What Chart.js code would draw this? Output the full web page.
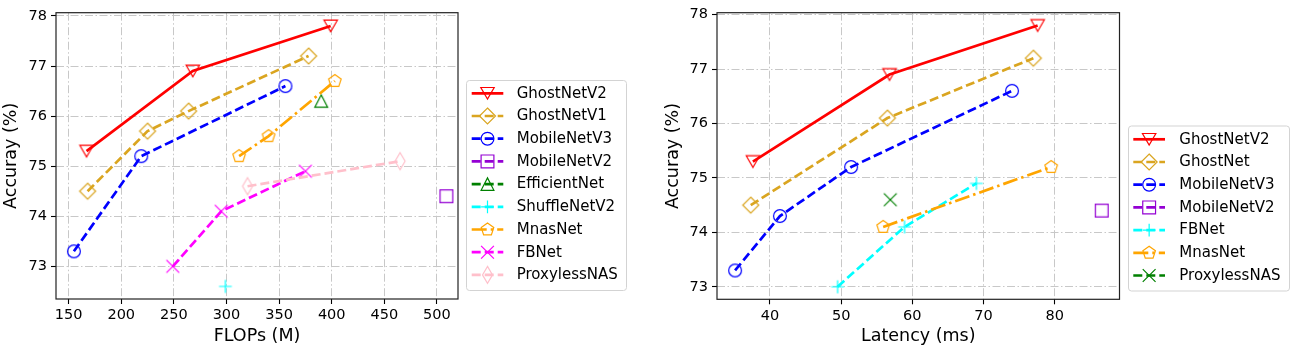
<!DOCTYPE html>
<html><head><meta charset="utf-8">
<script src="https://cdn.jsdelivr.net/npm/chart.js@4/dist/chart.umd.min.js"></script>
<style>
html,body{margin:0;padding:0;background:#fff;}
#wrap{position:relative;width:1292px;height:356px;overflow:hidden;}
canvas{position:absolute;top:0;}
#c1{left:0;} #c2{left:640px;}
</style></head><body>
<div id="wrap"><canvas id="c1" width="640" height="356"></canvas><canvas id="c2" width="652" height="356"></canvas></div>
<script>
// ---------- Left chart: accuracy vs FLOPs ----------
const flopsTicks = [150, 200, 250, 300, 350, 400, 450, 500];
const accTicks = [73, 74, 75, 76, 77, 78];
const ghostV2Flops = [167, 268, 399];
const ghostV2AccF = [75.3, 76.9, 77.8];
const ghostV1Flops = [168, 225, 264, 378];
const ghostV1AccF = [74.5, 75.7, 76.1, 77.2];
const mbv3Flops = [155, 219, 356];
const mbv3AccF = [73.3, 75.2, 76.6];
const mbv2Flops = [509];
const mbv2AccF = [74.4];
const effFlops = [390];
const effAccF = [76.3];
const shuffleFlops = [299];
const shuffleAccF = [72.6];
const mnasFlops = [312, 340, 403];
const mnasAccF = [75.2, 75.6, 76.7];
const fbFlops = [249, 295, 375];
const fbAccF = [73.0, 74.1, 74.9];
const proxFlops = [320, 465];
const proxAccF = [74.6, 75.1];

// ---------- Right chart: accuracy vs latency ----------
const latTicks = [40, 50, 60, 70, 80];
const ghostV2Lat = [37.6, 56.8, 77.6];
const ghostV2AccL = [75.3, 76.9, 77.8];
const ghostLat = [37.3, 56.5, 77.0];
const ghostAccL = [74.5, 76.1, 77.2];
const mbv3Lat = [35.1, 41.4, 51.4, 74.0];
const mbv3AccL = [73.3, 74.3, 75.2, 76.6];
const mbv2Lat = [86.6];
const mbv2AccL = [74.4];
const fbLat = [49.5, 58.9, 69.0];
const fbAccL = [73.0, 74.1, 74.9];
const mnasLat = [55.9, 79.5];
const mnasAccL = [74.1, 75.2];
const proxLat = [56.9];
const proxAccL = [74.6];

// ---------- styles ----------
const DASH = [9, 4];
const DASHDOT = [15, 4, 2.5, 4];
const FONT = "'DejaVu Sans', sans-serif";
Chart.defaults.font.family = FONT;
Chart.defaults.color = '#000';

function drawMarker(ctx, shape, x, y, color) {
  const s = 12.8, h = s / 2;
  ctx.save();
  ctx.strokeStyle = color;
  ctx.lineWidth = 1.2;
  ctx.setLineDash([]);
  ctx.lineJoin = 'miter';
  ctx.beginPath();
  switch (shape) {
    case 'v': ctx.moveTo(x - 6.7, y - 5.8); ctx.lineTo(x + 6.7, y - 5.8); ctx.lineTo(x, y + 5.8); ctx.closePath(); break;
    case '^': ctx.moveTo(x - 6.4, y + 6.2); ctx.lineTo(x + 6.4, y + 6.2); ctx.lineTo(x, y - 6.2); ctx.closePath(); break;
    case 'D': { const d = 8; ctx.moveTo(x, y - d); ctx.lineTo(x + d, y); ctx.lineTo(x, y + d); ctx.lineTo(x - d, y); ctx.closePath(); break; }
    case 'd': { const dy = 8.5, dx = 5; ctx.moveTo(x, y - dy); ctx.lineTo(x + dx, y); ctx.lineTo(x, y + dy); ctx.lineTo(x - dx, y); ctx.closePath(); break; }
    case 'o': ctx.arc(x, y, h, 0, Math.PI * 2); break;
    case 's': ctx.rect(x - h, y - h, s, s); break;
    case '+': ctx.moveTo(x - h, y); ctx.lineTo(x + h, y); ctx.moveTo(x, y - h); ctx.lineTo(x, y + h); break;
    case 'x': ctx.moveTo(x - h, y - h); ctx.lineTo(x + h, y + h); ctx.moveTo(x - h, y + h); ctx.lineTo(x + h, y - h); break;
    case 'p': { const r = 6.6; for (let k = 0; k < 5; k++) { const a = -Math.PI / 2 + k * 2 * Math.PI / 5; const px = x + r * Math.cos(a), py = y + r * Math.sin(a); k ? ctx.lineTo(px, py) : ctx.moveTo(px, py); } ctx.closePath(); break; }
  }
  ctx.stroke();
  ctx.restore();
}

function markerCanvas(shape, color) {
  const c = document.createElement('canvas');
  c.width = 24; c.height = 24;
  drawMarker(c.getContext('2d'), shape, 12, 12, color);
  return c;
}

const framePlugin = {
  id: 'frame',
  afterDatasetsDraw(chart) {
    const a = chart.chartArea, ctx = chart.ctx;
    ctx.save();
    ctx.strokeStyle = '#222';
    ctx.lineWidth = 1.2;
    ctx.strokeRect(a.left, a.top, a.right - a.left, a.bottom - a.top);
    ctx.restore();
  }
};

const legendPlugin = {
  id: 'mplLegend',
  afterDraw(chart) {
    const L = chart.options.plugins.mplLegend;
    if (!L) return;
    const ctx = chart.ctx;
    ctx.save();
    ctx.beginPath();
    ctx.roundRect(L.x, L.y, L.w, L.h, 3);
    ctx.fillStyle = 'rgba(255,255,255,0.85)';
    ctx.fill();
    ctx.strokeStyle = '#d3d3d3';
    ctx.lineWidth = 1;
    ctx.stroke();
    chart.data.datasets.forEach((ds, i) => {
      const cy = L.row0 + i * L.rowH;
      ctx.save();
      ctx.strokeStyle = ds.borderColor;
      ctx.lineWidth = ds.borderWidth;
      ctx.setLineDash(ds.borderDash || []);
      ctx.beginPath();
      ctx.moveTo(L.hx0, cy); ctx.lineTo(L.hx1, cy);
      ctx.stroke();
      ctx.restore();
      drawMarker(ctx, ds.mplMarker, (L.hx0 + L.hx1) / 2, cy, ds.borderColor);
      ctx.fillStyle = '#000';
      ctx.font = '15px ' + FONT;
      ctx.textBaseline = 'middle';
      ctx.textAlign = 'left';
      ctx.fillText(ds.label, L.tx, cy + 0.5);
    });
    ctx.restore();
  }
};

function series(label, xs, ys, color, marker, dash) {
  return {
    label, data: xs.map((x, j) => ({ x, y: ys[j] })),
    borderColor: color, backgroundColor: color, borderWidth: 2.7, borderDash: dash,
    showLine: true, fill: false, tension: 0,
    pointStyle: markerCanvas(marker, color), pointRadius: 6, pointHoverRadius: 6,
    mplMarker: marker, clip: false
  };
}

function build(canvas, cfg) {
  cfg.datasets.forEach((d, i) => { d.order = -i; });
  const gridCommon = { color: '#c8c8c8', lineWidth: 1, tickLength: 5, tickColor: '#000', tickWidth: 1.1, tickBorderDash: [] };
  return new Chart(canvas, {
    type: 'scatter',
    data: { datasets: cfg.datasets },
    options: {
      responsive: false, animation: false, devicePixelRatio: 1, events: [],
      layout: { padding: { top: cfg.padTop, right: cfg.padRight, left: 0, bottom: 0 } },
      plugins: { legend: { display: false }, tooltip: { enabled: false }, mplLegend: cfg.legend },
      scales: {
        x: {
          type: 'linear', min: cfg.xMin, max: cfg.xMax,
          afterBuildTicks: s => { s.ticks = cfg.xTicks.map(v => ({ value: v })); },
          afterFit: s => { s.height = cfg.xAxisH; },
          ticks: { autoSkip: false, maxRotation: 0, padding: 3, font: { size: 14.5 }, color: '#000' },
          grid: gridCommon,
          border: { display: false, dash: [8, 2.5, 1.5, 2.5] },
          title: { display: true, text: cfg.xTitle, font: { size: 17.5 }, color: '#000', padding: { top: 0, bottom: 9 } }
        },
        y: {
          type: 'linear', min: cfg.yMin, max: cfg.yMax,
          afterBuildTicks: s => { s.ticks = accTicks.map(v => ({ value: v })); },
          afterFit: s => { s.width = cfg.yAxisW; },
          ticks: { autoSkip: false, padding: 4, font: { size: 14.5 }, color: '#000' },
          grid: gridCommon,
          border: { display: false, dash: [8, 2.5, 1.5, 2.5] },
          title: { display: true, text: 'Accuray (%)', font: { size: 17.5 }, color: '#000', padding: { top: cfg.yTitlePad, bottom: 0 } }
        }
      }
    },
    plugins: [framePlugin, legendPlugin]
  });
}

build(document.getElementById('c1'), {
  xMin: 138, xMax: 520, yMin: 72.348, yMax: 78.065, xTicks: flopsTicks,
  padTop: 7, padRight: 182, xAxisH: 57, yAxisW: 56, yTitlePad: 1.2, xTitle: 'FLOPs (M)',
  legend: { x: 466.5, y: 80.5, w: 160, h: 210, row0: 93.3, rowH: 22.7, hx0: 471.7, hx1: 503.3, tx: 516.7 },
  datasets: [
    series('GhostNetV2', ghostV2Flops, ghostV2AccF, '#ff0000', 'v', []),
    series('GhostNetV1', ghostV1Flops, ghostV1AccF, '#daa520', 'D', DASH),
    series('MobileNetV3', mbv3Flops, mbv3AccF, '#0000ff', 'o', DASH),
    series('MobileNetV2', mbv2Flops, mbv2AccF, '#9400d3', 's', DASH),
    series('EfficientNet', effFlops, effAccF, '#008000', '^', DASH),
    series('ShuffleNetV2', shuffleFlops, shuffleAccF, '#00ffff', '+', DASH),
    series('MnasNet', mnasFlops, mnasAccF, '#ffa500', 'p', DASHDOT),
    series('FBNet', fbFlops, fbAccF, '#ff00ff', 'x', DASH),
    series('ProxylessNAS', proxFlops, proxAccF, '#ffc0cb', 'd', DASH)
  ]
});

build(document.getElementById('c2'), {
  xMin: 32.56, xMax: 89.1, yMin: 72.77, yMax: 78.036, xTicks: latTicks,
  padTop: 7.3, padRight: 172.5, xAxisH: 56.7, yAxisW: 77, yTitlePad: 22.8, xTitle: 'Latency (ms)',
  legend: { x: 488.5, y: 126, w: 161, h: 165, row0: 139.3, rowH: 22.7, hx0: 493.3, hx1: 525, tx: 539.3 },
  datasets: [
    series('GhostNetV2', ghostV2Lat, ghostV2AccL, '#ff0000', 'v', []),
    series('GhostNet', ghostLat, ghostAccL, '#daa520', 'D', DASH),
    series('MobileNetV3', mbv3Lat, mbv3AccL, '#0000ff', 'o', DASH),
    series('MobileNetV2', mbv2Lat, mbv2AccL, '#9400d3', 's', DASH),
    series('FBNet', fbLat, fbAccL, '#00ffff', '+', DASH),
    series('MnasNet', mnasLat, mnasAccL, '#ffa500', 'p', DASHDOT),
    series('ProxylessNAS', proxLat, proxAccL, '#008000', 'x', DASH)
  ]
});
</script>
</body></html>
